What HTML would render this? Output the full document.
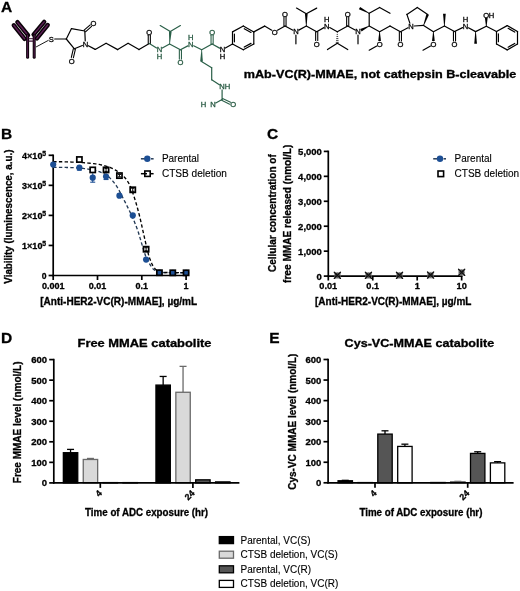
<!DOCTYPE html>
<html><head><meta charset="utf-8"><title>Figure</title>
<style>html,body{margin:0;padding:0;background:#fff;width:520px;height:591px;overflow:hidden}svg{display:block}</style>
</head><body>
<svg width="520" height="591" viewBox="0 0 520 591" font-family="Liberation Sans, Arial, sans-serif">
<g stroke-linecap="round" fill="none">
<line x1="13.8" y1="25.3" x2="24.6" y2="38.8" stroke="#0a0208" stroke-width="4.4" />
<line x1="13.8" y1="25.3" x2="24.6" y2="38.8" stroke="#5e1f57" stroke-width="1.4" />
<line x1="17.4" y1="22.2" x2="28" y2="35.2" stroke="#0a0208" stroke-width="4.4" />
<line x1="17.4" y1="22.2" x2="28" y2="35.2" stroke="#5e1f57" stroke-width="1.4" />
<line x1="44.2" y1="21.9" x2="33.6" y2="34.6" stroke="#0a0208" stroke-width="4.4" />
<line x1="44.2" y1="21.9" x2="33.6" y2="34.6" stroke="#5e1f57" stroke-width="1.4" />
<line x1="47.7" y1="25" x2="36.9" y2="38.4" stroke="#0a0208" stroke-width="4.4" />
<line x1="47.7" y1="25" x2="36.9" y2="38.4" stroke="#5e1f57" stroke-width="1.4" />
<line x1="27.6" y1="35" x2="27.6" y2="57.2" stroke="#0a0208" stroke-width="3" />
<line x1="27.6" y1="35" x2="27.6" y2="57.2" stroke="#5a1d52" stroke-width="0.9" />
<line x1="34.2" y1="35" x2="34.2" y2="57.2" stroke="#0a0208" stroke-width="3" />
<line x1="34.2" y1="35" x2="34.2" y2="57.2" stroke="#5a1d52" stroke-width="0.9" />
<line x1="28.8" y1="38.7" x2="33" y2="38.7" stroke="#3a1235" stroke-width="1" />
<line x1="28.8" y1="41.1" x2="33" y2="41.1" stroke="#3a1235" stroke-width="1.1" />
</g>
<line x1="36.4" y1="46.8" x2="48.3" y2="40.4" stroke="#000" stroke-width="0.9" stroke-linecap="round"/>
<line x1="54.7" y1="39" x2="66.3" y2="39" stroke="#000" stroke-width="1.2" stroke-linecap="round"/>
<line x1="66.3" y1="39" x2="71.5" y2="28.6" stroke="#000" stroke-width="1.2" stroke-linecap="round"/>
<line x1="71.5" y1="28.6" x2="84.8" y2="31" stroke="#000" stroke-width="1.2" stroke-linecap="round"/>
<line x1="84.8" y1="31" x2="85.25" y2="40.9" stroke="#000" stroke-width="1.2" stroke-linecap="round"/>
<line x1="82.36" y1="45.47" x2="74.4" y2="48.8" stroke="#000" stroke-width="1.2" stroke-linecap="round"/>
<line x1="74.4" y1="48.8" x2="66.3" y2="39" stroke="#000" stroke-width="1.2" stroke-linecap="round"/>
<line x1="84.11" y1="30.21" x2="90.22" y2="24.88" stroke="#000" stroke-width="1.08" stroke-linecap="round"/>
<line x1="85.49" y1="31.79" x2="91.6" y2="26.46" stroke="#000" stroke-width="1.08" stroke-linecap="round"/>
<line x1="75.42" y1="49.04" x2="73.37" y2="57.82" stroke="#000" stroke-width="1.08" stroke-linecap="round"/>
<line x1="73.38" y1="48.56" x2="71.33" y2="57.35" stroke="#000" stroke-width="1.08" stroke-linecap="round"/>
<line x1="88.32" y1="45.75" x2="95.2" y2="49.4" stroke="#000" stroke-width="1.2" stroke-linecap="round"/>
<line x1="95.2" y1="49.4" x2="106.1" y2="43.3" stroke="#000" stroke-width="1.2" stroke-linecap="round"/>
<line x1="106.1" y1="43.3" x2="117.7" y2="49.6" stroke="#000" stroke-width="1.2" stroke-linecap="round"/>
<line x1="117.7" y1="49.6" x2="128.1" y2="43.3" stroke="#000" stroke-width="1.2" stroke-linecap="round"/>
<line x1="128.1" y1="43.3" x2="139" y2="49.6" stroke="#000" stroke-width="1.2" stroke-linecap="round"/>
<line x1="139" y1="49.6" x2="149.3" y2="43.6" stroke="#000" stroke-width="1.2" stroke-linecap="round"/>
<line x1="148.25" y1="43.6" x2="148.25" y2="35.2" stroke="#000" stroke-width="1.08" stroke-linecap="round"/>
<line x1="150.35" y1="43.6" x2="150.35" y2="35.2" stroke="#000" stroke-width="1.08" stroke-linecap="round"/>
<line x1="149.3" y1="43.6" x2="156.56" y2="47.91" stroke="#2a5f48" stroke-width="1.2" stroke-linecap="round"/>
<line x1="162.29" y1="48.01" x2="169.6" y2="44" stroke="#2a5f48" stroke-width="1.2" stroke-linecap="round"/>
<polygon points="169.9,44.02 169.3,43.98 168.95,31.33 171.65,31.47" fill="#2a5f48" stroke="none" stroke-width="0"/>
<line x1="170.3" y1="31.4" x2="160.2" y2="25.6" stroke="#2a5f48" stroke-width="1.2" stroke-linecap="round"/>
<line x1="170.3" y1="31.4" x2="180.4" y2="25.6" stroke="#2a5f48" stroke-width="1.2" stroke-linecap="round"/>
<line x1="169.6" y1="44" x2="180.4" y2="49.8" stroke="#2a5f48" stroke-width="1.2" stroke-linecap="round"/>
<line x1="181.45" y1="49.8" x2="181.45" y2="59.1" stroke="#2a5f48" stroke-width="1.08" stroke-linecap="round"/>
<line x1="179.35" y1="49.8" x2="179.35" y2="59.1" stroke="#2a5f48" stroke-width="1.08" stroke-linecap="round"/>
<line x1="180.4" y1="49.8" x2="187.79" y2="45.85" stroke="#2a5f48" stroke-width="1.2" stroke-linecap="round"/>
<line x1="193.65" y1="45.78" x2="201.7" y2="49.8" stroke="#2a5f48" stroke-width="1.2" stroke-linecap="round"/>
<polygon points="201.4,49.79 202,49.81 202.85,61.62 200.15,61.58" fill="#2a5f48" stroke="none" stroke-width="0"/>
<line x1="201.5" y1="61.6" x2="211.7" y2="67.7" stroke="#2a5f48" stroke-width="1.2" stroke-linecap="round"/>
<line x1="211.7" y1="67.7" x2="211.7" y2="79.8" stroke="#2a5f48" stroke-width="1.2" stroke-linecap="round"/>
<line x1="211.7" y1="79.8" x2="219.34" y2="84.79" stroke="#2a5f48" stroke-width="1.2" stroke-linecap="round"/>
<line x1="222.1" y1="89.9" x2="222.1" y2="99.4" stroke="#2a5f48" stroke-width="1.2" stroke-linecap="round"/>
<line x1="222.55" y1="98.45" x2="230.57" y2="102.24" stroke="#2a5f48" stroke-width="1.08" stroke-linecap="round"/>
<line x1="221.65" y1="100.35" x2="229.67" y2="104.14" stroke="#2a5f48" stroke-width="1.08" stroke-linecap="round"/>
<line x1="222.1" y1="99.4" x2="215.77" y2="102.98" stroke="#2a5f48" stroke-width="1.2" stroke-linecap="round"/>
<line x1="201.7" y1="49.8" x2="212.1" y2="44" stroke="#2a5f48" stroke-width="1.2" stroke-linecap="round"/>
<line x1="211.05" y1="44" x2="211.05" y2="35.2" stroke="#2a5f48" stroke-width="1.08" stroke-linecap="round"/>
<line x1="213.15" y1="44" x2="213.15" y2="35.2" stroke="#2a5f48" stroke-width="1.08" stroke-linecap="round"/>
<line x1="212.1" y1="44" x2="219.61" y2="48.11" stroke="#2a5f48" stroke-width="1.2" stroke-linecap="round"/>
<line x1="225.37" y1="48.07" x2="232.5" y2="44" stroke="#000" stroke-width="1.2" stroke-linecap="round"/>
<line x1="232.5" y1="44" x2="232.5" y2="31.9" stroke="#000" stroke-width="1.2" stroke-linecap="round"/>
<line x1="232.5" y1="31.9" x2="243.3" y2="26" stroke="#000" stroke-width="1.2" stroke-linecap="round"/>
<line x1="243.3" y1="26" x2="253.8" y2="31.9" stroke="#000" stroke-width="1.2" stroke-linecap="round"/>
<line x1="253.8" y1="31.9" x2="253.8" y2="44" stroke="#000" stroke-width="1.2" stroke-linecap="round"/>
<line x1="253.8" y1="44" x2="243.3" y2="49.8" stroke="#000" stroke-width="1.2" stroke-linecap="round"/>
<line x1="243.3" y1="49.8" x2="232.5" y2="44" stroke="#000" stroke-width="1.2" stroke-linecap="round"/>
<line x1="234.4" y1="41.82" x2="234.4" y2="34.08" stroke="#000" stroke-width="1.2" stroke-linecap="round"/>
<line x1="244.26" y1="28.72" x2="250.98" y2="32.49" stroke="#000" stroke-width="1.2" stroke-linecap="round"/>
<line x1="250.99" y1="43.38" x2="244.27" y2="47.09" stroke="#000" stroke-width="1.2" stroke-linecap="round"/>
<line x1="253.8" y1="31.9" x2="264.6" y2="26.1" stroke="#000" stroke-width="1.2" stroke-linecap="round"/>
<line x1="264.6" y1="26.1" x2="271.73" y2="30.17" stroke="#000" stroke-width="1.2" stroke-linecap="round"/>
<line x1="277.48" y1="30.19" x2="285" y2="26" stroke="#000" stroke-width="1.2" stroke-linecap="round"/>
<line x1="283.95" y1="26" x2="283.95" y2="17.1" stroke="#000" stroke-width="1.08" stroke-linecap="round"/>
<line x1="286.05" y1="26" x2="286.05" y2="17.1" stroke="#000" stroke-width="1.08" stroke-linecap="round"/>
<line x1="285" y1="26" x2="292.98" y2="30.17" stroke="#000" stroke-width="1.2" stroke-linecap="round"/>
<line x1="295.9" y1="35" x2="295.9" y2="43.8" stroke="#000" stroke-width="1.2" stroke-linecap="round"/>
<line x1="298.79" y1="30.11" x2="306.3" y2="26" stroke="#000" stroke-width="1.2" stroke-linecap="round"/>
<polygon points="306.6,26 306,26 304.95,13.8 307.65,13.8" fill="#000" stroke="none" stroke-width="0"/>
<line x1="306.3" y1="13.8" x2="296.5" y2="8.1" stroke="#000" stroke-width="1.2" stroke-linecap="round"/>
<line x1="306.3" y1="13.8" x2="316.7" y2="8.1" stroke="#000" stroke-width="1.2" stroke-linecap="round"/>
<line x1="306.3" y1="26" x2="316.7" y2="31.7" stroke="#000" stroke-width="1.2" stroke-linecap="round"/>
<line x1="317.75" y1="31.7" x2="317.75" y2="40.5" stroke="#000" stroke-width="1.08" stroke-linecap="round"/>
<line x1="315.65" y1="31.7" x2="315.65" y2="40.5" stroke="#000" stroke-width="1.08" stroke-linecap="round"/>
<line x1="316.7" y1="31.7" x2="323.93" y2="27.62" stroke="#000" stroke-width="1.2" stroke-linecap="round"/>
<line x1="329.7" y1="27.57" x2="337.3" y2="31.7" stroke="#000" stroke-width="1.2" stroke-linecap="round"/>
<line x1="337.71" y1="32.67" x2="336.89" y2="32.67" stroke="#000" stroke-width="0.7" />
<line x1="337.93" y1="34.6" x2="336.68" y2="34.6" stroke="#000" stroke-width="0.7" />
<line x1="338.14" y1="36.53" x2="336.46" y2="36.53" stroke="#000" stroke-width="0.7" />
<line x1="338.36" y1="38.47" x2="336.24" y2="38.47" stroke="#000" stroke-width="0.7" />
<line x1="338.57" y1="40.4" x2="336.03" y2="40.4" stroke="#000" stroke-width="0.7" />
<line x1="338.79" y1="42.33" x2="335.81" y2="42.33" stroke="#000" stroke-width="0.7" />
<line x1="337.3" y1="43.3" x2="327.5" y2="49.6" stroke="#000" stroke-width="1.2" stroke-linecap="round"/>
<line x1="337.3" y1="43.3" x2="347.7" y2="49.6" stroke="#000" stroke-width="1.2" stroke-linecap="round"/>
<line x1="337.3" y1="31.7" x2="347.7" y2="26" stroke="#000" stroke-width="1.2" stroke-linecap="round"/>
<line x1="346.65" y1="26" x2="346.65" y2="17.1" stroke="#000" stroke-width="1.08" stroke-linecap="round"/>
<line x1="348.75" y1="26" x2="348.75" y2="17.1" stroke="#000" stroke-width="1.08" stroke-linecap="round"/>
<line x1="347.7" y1="26" x2="355.11" y2="30.1" stroke="#000" stroke-width="1.2" stroke-linecap="round"/>
<line x1="358" y1="35" x2="358" y2="43.8" stroke="#000" stroke-width="1.2" stroke-linecap="round"/>
<polygon points="369.06,25.73 369.34,26.27 361.55,31.41 360.33,29" fill="#000" stroke="none" stroke-width="0"/>
<line x1="369.2" y1="26" x2="369.2" y2="13.3" stroke="#000" stroke-width="1.2" stroke-linecap="round"/>
<polygon points="369.34,13.04 369.06,13.56 358.86,9.29 360.14,6.91" fill="#000" stroke="none" stroke-width="0"/>
<line x1="369.2" y1="13.3" x2="379.6" y2="7.5" stroke="#000" stroke-width="1.2" stroke-linecap="round"/>
<line x1="379.6" y1="7.5" x2="390" y2="13.3" stroke="#000" stroke-width="1.2" stroke-linecap="round"/>
<line x1="369.2" y1="26" x2="379.6" y2="31.7" stroke="#000" stroke-width="1.2" stroke-linecap="round"/>
<polygon points="379.3,31.7 379.9,31.7 380.95,41.1 378.25,41.1" fill="#000" stroke="none" stroke-width="0"/>
<line x1="376.72" y1="46.01" x2="369.2" y2="50.2" stroke="#000" stroke-width="1.2" stroke-linecap="round"/>
<line x1="379.6" y1="31.7" x2="390" y2="26" stroke="#000" stroke-width="1.2" stroke-linecap="round"/>
<line x1="390" y1="26" x2="400.4" y2="31.7" stroke="#000" stroke-width="1.2" stroke-linecap="round"/>
<line x1="401.45" y1="31.7" x2="401.45" y2="40.9" stroke="#000" stroke-width="1.08" stroke-linecap="round"/>
<line x1="399.35" y1="31.7" x2="399.35" y2="40.9" stroke="#000" stroke-width="1.08" stroke-linecap="round"/>
<line x1="400.4" y1="31.7" x2="407.98" y2="27.73" stroke="#000" stroke-width="1.2" stroke-linecap="round"/>
<line x1="409.84" y1="23.07" x2="406.9" y2="14.4" stroke="#000" stroke-width="1.2" stroke-linecap="round"/>
<line x1="406.9" y1="14.4" x2="417.3" y2="7.5" stroke="#000" stroke-width="1.2" stroke-linecap="round"/>
<line x1="417.3" y1="7.5" x2="427.7" y2="14.4" stroke="#000" stroke-width="1.2" stroke-linecap="round"/>
<polygon points="423.88,25.5 423.32,25.3 426.44,13.93 428.96,14.87" fill="#000" stroke="none" stroke-width="0"/>
<line x1="423.6" y1="25.4" x2="414.19" y2="25.99" stroke="#000" stroke-width="1.2" stroke-linecap="round"/>
<line x1="423.6" y1="25.4" x2="433.4" y2="31.7" stroke="#000" stroke-width="1.2" stroke-linecap="round"/>
<polygon points="433.1,31.7 433.7,31.7 434.75,41.1 432.05,41.1" fill="#000" stroke="none" stroke-width="0"/>
<line x1="430.52" y1="46.01" x2="423" y2="50.2" stroke="#000" stroke-width="1.2" stroke-linecap="round"/>
<line x1="433.4" y1="31.7" x2="444.4" y2="26" stroke="#000" stroke-width="1.2" stroke-linecap="round"/>
<polygon points="444.7,26 444.1,26 443.05,13.8 445.75,13.8" fill="#000" stroke="none" stroke-width="0"/>
<line x1="444.4" y1="26" x2="454.5" y2="31.5" stroke="#000" stroke-width="1.2" stroke-linecap="round"/>
<line x1="455.55" y1="31.5" x2="455.55" y2="40.9" stroke="#000" stroke-width="1.08" stroke-linecap="round"/>
<line x1="453.45" y1="31.5" x2="453.45" y2="40.9" stroke="#000" stroke-width="1.08" stroke-linecap="round"/>
<line x1="454.5" y1="31.5" x2="462.53" y2="27.63" stroke="#000" stroke-width="1.2" stroke-linecap="round"/>
<line x1="468.41" y1="27.76" x2="475.6" y2="31.6" stroke="#000" stroke-width="1.2" stroke-linecap="round"/>
<polygon points="475.3,31.6 475.9,31.6 476.95,43.7 474.25,43.7" fill="#000" stroke="none" stroke-width="0"/>
<line x1="475.6" y1="31.6" x2="486.3" y2="26.2" stroke="#000" stroke-width="1.2" stroke-linecap="round"/>
<polygon points="486.6,26.2 486,26.2 484.95,18.1 487.65,18.1" fill="#000" stroke="none" stroke-width="0"/>
<line x1="486.3" y1="26.2" x2="496.5" y2="31.5" stroke="#000" stroke-width="1.2" stroke-linecap="round"/>
<line x1="496.5" y1="31.5" x2="507.2" y2="25.6" stroke="#000" stroke-width="1.2" stroke-linecap="round"/>
<line x1="507.2" y1="25.6" x2="517.5" y2="31.5" stroke="#000" stroke-width="1.2" stroke-linecap="round"/>
<line x1="517.5" y1="31.5" x2="517.5" y2="44" stroke="#000" stroke-width="1.2" stroke-linecap="round"/>
<line x1="517.5" y1="44" x2="507.2" y2="49.9" stroke="#000" stroke-width="1.2" stroke-linecap="round"/>
<line x1="507.2" y1="49.9" x2="496.5" y2="44" stroke="#000" stroke-width="1.2" stroke-linecap="round"/>
<line x1="496.5" y1="44" x2="496.5" y2="31.5" stroke="#000" stroke-width="1.2" stroke-linecap="round"/>
<line x1="498.4" y1="41.75" x2="498.4" y2="33.75" stroke="#000" stroke-width="1.2" stroke-linecap="round"/>
<line x1="508.11" y1="28.31" x2="514.7" y2="32.09" stroke="#000" stroke-width="1.2" stroke-linecap="round"/>
<line x1="514.7" y1="43.41" x2="508.11" y2="47.19" stroke="#000" stroke-width="1.2" stroke-linecap="round"/>
<text x="51.4" y="41.74" font-size="7.6" fill="#000" text-anchor="middle" stroke="#000" stroke-width="0.3">S</text>
<text x="85.4" y="46.94" font-size="7.6" fill="#000" text-anchor="middle" stroke="#000" stroke-width="0.3">N</text>
<text x="93.4" y="26.24" font-size="7.6" fill="#000" text-anchor="middle" stroke="#000" stroke-width="0.3">O</text>
<text x="71.6" y="63.54" font-size="7.6" fill="#000" text-anchor="middle" stroke="#000" stroke-width="0.3">O</text>
<text x="149.3" y="34.64" font-size="7.6" fill="#000" text-anchor="middle" stroke="#000" stroke-width="0.3">O</text>
<text x="159.4" y="52.34" font-size="7.6" fill="#265840" text-anchor="middle" stroke="#265840" stroke-width="0.3">N</text>
<text x="180.4" y="65.14" font-size="7.6" fill="#265840" text-anchor="middle" stroke="#265840" stroke-width="0.3">O</text>
<text x="190.7" y="47.04" font-size="7.6" fill="#265840" text-anchor="middle" stroke="#265840" stroke-width="0.3">N</text>
<text x="222.1" y="89.34" font-size="7.6" fill="#265840" text-anchor="middle" stroke="#265840" stroke-width="0.3">N</text>
<text x="233.1" y="107.34" font-size="7.6" fill="#265840" text-anchor="middle" stroke="#265840" stroke-width="0.3">O</text>
<text x="212.9" y="107.34" font-size="7.6" fill="#265840" text-anchor="middle" stroke="#265840" stroke-width="0.3">N</text>
<text x="212.1" y="34.64" font-size="7.6" fill="#265840" text-anchor="middle" stroke="#265840" stroke-width="0.3">O</text>
<text x="222.5" y="52.44" font-size="7.6" fill="#000" text-anchor="middle" stroke="#000" stroke-width="0.3">N</text>
<text x="274.6" y="34.54" font-size="7.6" fill="#000" text-anchor="middle" stroke="#000" stroke-width="0.3">O</text>
<text x="285" y="16.54" font-size="7.6" fill="#000" text-anchor="middle" stroke="#000" stroke-width="0.3">O</text>
<text x="295.9" y="34.44" font-size="7.6" fill="#000" text-anchor="middle" stroke="#000" stroke-width="0.3">N</text>
<text x="316.7" y="46.54" font-size="7.6" fill="#000" text-anchor="middle" stroke="#000" stroke-width="0.3">O</text>
<text x="326.8" y="28.74" font-size="7.6" fill="#000" text-anchor="middle" stroke="#000" stroke-width="0.3">N</text>
<text x="347.7" y="16.54" font-size="7.6" fill="#000" text-anchor="middle" stroke="#000" stroke-width="0.3">O</text>
<text x="358" y="34.44" font-size="7.6" fill="#000" text-anchor="middle" stroke="#000" stroke-width="0.3">N</text>
<text x="379.6" y="47.14" font-size="7.6" fill="#000" text-anchor="middle" stroke="#000" stroke-width="0.3">O</text>
<text x="400.4" y="46.94" font-size="7.6" fill="#000" text-anchor="middle" stroke="#000" stroke-width="0.3">O</text>
<text x="410.9" y="28.94" font-size="7.6" fill="#000" text-anchor="middle" stroke="#000" stroke-width="0.3">N</text>
<text x="433.4" y="47.14" font-size="7.6" fill="#000" text-anchor="middle" stroke="#000" stroke-width="0.3">O</text>
<text x="454.5" y="46.94" font-size="7.6" fill="#000" text-anchor="middle" stroke="#000" stroke-width="0.3">O</text>
<text x="465.5" y="28.94" font-size="7.6" fill="#000" text-anchor="middle" stroke="#000" stroke-width="0.3">N</text>
<text x="486.3" y="17.54" font-size="7.6" fill="#000" text-anchor="middle" stroke="#000" stroke-width="0.3">O</text>
<text x="159.6" y="59.44" font-size="7.6" fill="#265840" text-anchor="middle" stroke="#265840" stroke-width="0.3">H</text>
<text x="190.7" y="40.24" font-size="7.6" fill="#265840" text-anchor="middle" stroke="#265840" stroke-width="0.3">H</text>
<text x="222.5" y="59.44" font-size="7.6" fill="#000" text-anchor="middle" stroke="#000" stroke-width="0.3">H</text>
<text x="326.8" y="22.04" font-size="7.6" fill="#000" text-anchor="middle" stroke="#000" stroke-width="0.3">H</text>
<text x="465.5" y="22.24" font-size="7.6" fill="#000" text-anchor="middle" stroke="#000" stroke-width="0.3">H</text>
<text x="227.6" y="89.34" font-size="7.6" fill="#265840" text-anchor="middle" stroke="#265840" stroke-width="0.3">H</text>
<text x="203.6" y="107.34" font-size="7.6" fill="#265840" text-anchor="middle" stroke="#265840" stroke-width="0.3">H</text>
<text x="491.6" y="17.54" font-size="7.6" fill="#000" text-anchor="middle" stroke="#000" stroke-width="0.3">H</text>
<text x="243.8" y="77.8" font-size="10" font-weight="bold" fill="#000" text-anchor="start" textLength="272.4" lengthAdjust="spacingAndGlyphs"  stroke="#000" stroke-width="0.3">mAb-VC(R)-MMAE, not cathepsin B-cleavable</text>
<text x="0.9" y="11.8" font-size="15.5" font-weight="bold" fill="#000" text-anchor="start"  stroke="#000" stroke-width="0.3">A</text>
<text x="0.9" y="139.3" font-size="15.5" font-weight="bold" fill="#000" text-anchor="start"  stroke="#000" stroke-width="0.3">B</text>
<text x="267.1" y="139.2" font-size="15.5" font-weight="bold" fill="#000" text-anchor="start"  stroke="#000" stroke-width="0.3">C</text>
<text x="0.9" y="342.5" font-size="15.5" font-weight="bold" fill="#000" text-anchor="start"  stroke="#000" stroke-width="0.3">D</text>
<text x="269.2" y="342.5" font-size="15.5" font-weight="bold" fill="#000" text-anchor="start"  stroke="#000" stroke-width="0.3">E</text>
<line x1="53.2" y1="154.5" x2="53.2" y2="276.3" stroke="#000" stroke-width="1.7" />
<line x1="52.4" y1="275.5" x2="186.9" y2="275.5" stroke="#000" stroke-width="1.7" />
<line x1="48.6" y1="275.5" x2="53.2" y2="275.5" stroke="#000" stroke-width="1.7" />
<line x1="48.6" y1="245.45" x2="53.2" y2="245.45" stroke="#000" stroke-width="1.7" />
<line x1="48.6" y1="215.4" x2="53.2" y2="215.4" stroke="#000" stroke-width="1.7" />
<line x1="48.6" y1="185.35" x2="53.2" y2="185.35" stroke="#000" stroke-width="1.7" />
<line x1="48.6" y1="155.3" x2="53.2" y2="155.3" stroke="#000" stroke-width="1.7" />
<line x1="53.2" y1="275.5" x2="53.2" y2="280" stroke="#000" stroke-width="1.7" />
<line x1="97.5" y1="275.5" x2="97.5" y2="280" stroke="#000" stroke-width="1.7" />
<line x1="141.8" y1="275.5" x2="141.8" y2="280" stroke="#000" stroke-width="1.7" />
<line x1="186.1" y1="275.5" x2="186.1" y2="280" stroke="#000" stroke-width="1.7" />
<text x="42.4" y="249.05" font-size="9" font-weight="bold" fill="#000" text-anchor="end"  stroke="#000" stroke-width="0.3">1×10</text>
<text x="42.2" y="246.35" font-size="6.8" font-weight="bold" fill="#000" text-anchor="start"  stroke="#000" stroke-width="0.3">5</text>
<text x="42.4" y="219" font-size="9" font-weight="bold" fill="#000" text-anchor="end"  stroke="#000" stroke-width="0.3">2×10</text>
<text x="42.2" y="216.3" font-size="6.8" font-weight="bold" fill="#000" text-anchor="start"  stroke="#000" stroke-width="0.3">5</text>
<text x="42.4" y="188.95" font-size="9" font-weight="bold" fill="#000" text-anchor="end"  stroke="#000" stroke-width="0.3">3×10</text>
<text x="42.2" y="186.25" font-size="6.8" font-weight="bold" fill="#000" text-anchor="start"  stroke="#000" stroke-width="0.3">5</text>
<text x="42.4" y="158.9" font-size="9" font-weight="bold" fill="#000" text-anchor="end"  stroke="#000" stroke-width="0.3">4×10</text>
<text x="42.2" y="156.2" font-size="6.8" font-weight="bold" fill="#000" text-anchor="start"  stroke="#000" stroke-width="0.3">5</text>
<text x="46.5" y="278.8" font-size="8.6" font-weight="bold" fill="#000" text-anchor="end"  stroke="#000" stroke-width="0.3">0</text>
<text x="53.2" y="288.9" font-size="9" font-weight="bold" fill="#000" text-anchor="middle"  stroke="#000" stroke-width="0.3">0.001</text>
<text x="97.5" y="288.9" font-size="9" font-weight="bold" fill="#000" text-anchor="middle"  stroke="#000" stroke-width="0.3">0.01</text>
<text x="141.8" y="288.9" font-size="9" font-weight="bold" fill="#000" text-anchor="middle"  stroke="#000" stroke-width="0.3">0.1</text>
<text x="186.1" y="288.9" font-size="9" font-weight="bold" fill="#000" text-anchor="middle"  stroke="#000" stroke-width="0.3">1</text>
<text x="40.2" y="304.9" font-size="10" font-weight="bold" fill="#000" text-anchor="start" textLength="157" lengthAdjust="spacingAndGlyphs"  stroke="#000" stroke-width="0.3">[Anti-HER2-VC(R)-MMAE], µg/mL</text>
<text x="12.2" y="283.7" font-size="10" font-weight="bold" fill="#000" text-anchor="start" textLength="134.2" lengthAdjust="spacingAndGlyphs" transform="rotate(-90 12.2 283.7)"  stroke="#000" stroke-width="0.3">Viability (luminescence, a.u.)</text>
<path d="M53.2 167.3 L54.04 167.3 L54.87 167.3 L55.71 167.31 L56.55 167.31 L57.38 167.32 L58.22 167.32 L59.05 167.33 L59.89 167.34 L60.73 167.35 L61.56 167.36 L62.4 167.38 L63.23 167.39 L64.07 167.41 L64.91 167.42 L65.74 167.44 L66.58 167.46 L67.42 167.47 L68.25 167.49 L69.09 167.51 L69.93 167.53 L70.76 167.55 L71.6 167.58 L72.43 167.6 L73.27 167.62 L74.11 167.66 L74.94 167.7 L75.78 167.74 L76.62 167.8 L77.45 167.85 L78.29 167.92 L79.12 167.99 L79.96 168.07 L80.8 168.16 L81.63 168.25 L82.47 168.34 L83.31 168.44 L84.14 168.55 L84.98 168.66 L85.81 168.78 L86.65 168.91 L87.49 169.03 L88.32 169.17 L89.16 169.31 L90 169.45 L90.83 169.6 L91.67 169.75 L92.5 169.91 L93.34 170.07 L94.18 170.23 L95.01 170.4 L95.85 170.59 L96.69 170.81 L97.52 171.05 L98.36 171.32 L99.19 171.62 L100.03 171.95 L100.87 172.3 L101.7 172.68 L102.54 173.08 L103.38 173.51 L104.21 173.95 L105.05 174.42 L105.88 174.91 L106.72 175.42 L107.56 175.97 L108.39 176.6 L109.23 177.32 L110.07 178.11 L110.9 178.96 L111.74 179.88 L112.57 180.86 L113.41 181.88 L114.25 182.94 L115.08 184.04 L115.92 185.16 L116.76 186.38 L117.59 187.73 L118.43 189.18 L119.26 190.72 L120.1 192.31 L120.94 193.95 L121.77 195.62 L122.61 197.29 L123.45 198.93 L124.28 200.55 L125.12 202.16 L125.95 203.79 L126.79 205.44 L127.63 207.11 L128.46 208.81 L129.3 210.53 L130.13 212.26 L130.97 214.01 L131.81 215.82 L132.64 217.68 L133.48 219.62 L134.32 221.6 L135.15 223.65 L135.99 225.77 L136.83 227.98 L137.66 230.3 L138.5 232.8 L139.33 235.52 L140.17 238.37 L141.01 241.26 L141.84 244.09 L142.68 246.79 L143.52 249.54 L144.35 252.28 L145.19 254.84 L146.02 257.08 L146.86 258.95 L147.7 260.6 L148.53 262.1 L149.37 263.49 L150.21 264.83 L151.04 266.16 L151.88 267.4 L152.71 268.42 L153.55 269.18 L154.39 269.87 L155.22 270.48 L156.06 270.99 L156.9 271.38 L157.73 271.63 L158.57 271.82 L159.4 271.98 L160.24 272.13 L161.08 272.27 L161.91 272.38 L162.75 272.47 L163.59 272.54 L164.42 272.58 L165.26 272.61 L166.09 272.62 L166.93 272.64 L167.77 272.65 L168.6 272.66 L169.44 272.68 L170.28 272.69 L171.11 272.7 L171.95 272.71 L172.78 272.72 L173.62 272.73 L174.46 272.74 L175.29 272.75 L176.13 272.76 L176.97 272.76 L177.8 272.77 L178.64 272.77 L179.47 272.78 L180.31 272.78 L181.15 272.79 L181.98 272.79 L182.82 272.79 L183.66 272.8 L184.49 272.8 L185.33 272.8 L186.16 272.8 L187 272.8" stroke="#243a55" stroke-width="1.35" fill="none" stroke-dasharray="3.4 2.3"/>
<path d="M53.2 161.7 L54.04 161.7 L54.87 161.7 L55.71 161.71 L56.55 161.72 L57.38 161.73 L58.22 161.74 L59.05 161.75 L59.89 161.76 L60.73 161.78 L61.56 161.79 L62.4 161.81 L63.23 161.83 L64.07 161.85 L64.91 161.87 L65.74 161.9 L66.58 161.92 L67.42 161.94 L68.25 161.97 L69.09 161.99 L69.93 162.02 L70.76 162.04 L71.6 162.07 L72.43 162.1 L73.27 162.13 L74.11 162.16 L74.94 162.19 L75.78 162.23 L76.62 162.27 L77.45 162.31 L78.29 162.35 L79.12 162.4 L79.96 162.45 L80.8 162.5 L81.63 162.56 L82.47 162.61 L83.31 162.68 L84.14 162.74 L84.98 162.8 L85.81 162.87 L86.65 162.94 L87.49 163.02 L88.32 163.1 L89.16 163.17 L90 163.26 L90.83 163.34 L91.67 163.43 L92.5 163.52 L93.34 163.61 L94.18 163.7 L95.01 163.8 L95.85 163.91 L96.69 164.03 L97.52 164.16 L98.36 164.3 L99.19 164.46 L100.03 164.62 L100.87 164.8 L101.7 164.99 L102.54 165.19 L103.38 165.4 L104.21 165.61 L105.05 165.84 L105.88 166.07 L106.72 166.32 L107.56 166.57 L108.39 166.85 L109.23 167.16 L110.07 167.49 L110.9 167.85 L111.74 168.23 L112.57 168.63 L113.41 169.05 L114.25 169.49 L115.08 169.95 L115.92 170.43 L116.76 170.93 L117.59 171.46 L118.43 172.03 L119.26 172.63 L120.1 173.27 L120.94 173.94 L121.77 174.66 L122.61 175.42 L123.45 176.23 L124.28 177.08 L125.12 177.99 L125.95 179.01 L126.79 180.14 L127.63 181.38 L128.46 182.74 L129.3 184.22 L130.13 185.9 L130.97 187.87 L131.81 190.08 L132.64 192.46 L133.48 194.94 L134.32 197.46 L135.15 200.1 L135.99 202.87 L136.83 205.78 L137.66 208.8 L138.5 211.92 L139.33 215.14 L140.17 218.54 L141.01 222.17 L141.84 225.93 L142.68 229.75 L143.52 233.51 L144.35 237.17 L145.19 240.82 L146.02 244.43 L146.86 247.93 L147.7 251.37 L148.53 254.71 L149.37 257.51 L150.21 259.87 L151.04 261.95 L151.88 263.76 L152.71 265.35 L153.55 266.76 L154.39 267.94 L155.22 268.91 L156.06 269.81 L156.9 270.57 L157.73 271.09 L158.57 271.38 L159.4 271.63 L160.24 271.85 L161.08 272.04 L161.91 272.2 L162.75 272.32 L163.59 272.42 L164.42 272.48 L165.26 272.51 L166.09 272.52 L166.93 272.54 L167.77 272.55 L168.6 272.57 L169.44 272.58 L170.28 272.59 L171.11 272.6 L171.95 272.61 L172.78 272.62 L173.62 272.63 L174.46 272.64 L175.29 272.65 L176.13 272.66 L176.97 272.66 L177.8 272.67 L178.64 272.68 L179.47 272.68 L180.31 272.68 L181.15 272.69 L181.98 272.69 L182.82 272.69 L183.66 272.7 L184.49 272.7 L185.33 272.7 L186.16 272.7 L187 272.7" stroke="#000" stroke-width="1.35" fill="none" stroke-dasharray="3.4 2.3"/>
<circle cx="53.2" cy="164.62" r="3.1" fill="#1d4f94"/>
<line x1="79.38" y1="170.11" x2="79.38" y2="165.31" stroke="#1d4f94" stroke-width="1.1" />
<line x1="76.88" y1="170.11" x2="81.88" y2="170.11" stroke="#1d4f94" stroke-width="1.1" />
<circle cx="79.38" cy="167.71" r="3.1" fill="#1d4f94"/>
<line x1="92.72" y1="182.19" x2="92.72" y2="173.18" stroke="#1d4f94" stroke-width="1.1" />
<line x1="90.22" y1="182.19" x2="95.22" y2="182.19" stroke="#1d4f94" stroke-width="1.1" />
<circle cx="92.72" cy="177.69" r="3.1" fill="#1d4f94"/>
<line x1="106.06" y1="179.52" x2="106.06" y2="173.51" stroke="#1d4f94" stroke-width="1.1" />
<line x1="103.56" y1="179.52" x2="108.56" y2="179.52" stroke="#1d4f94" stroke-width="1.1" />
<circle cx="106.06" cy="176.52" r="3.1" fill="#1d4f94"/>
<circle cx="119.42" cy="195.69" r="3.1" fill="#1d4f94"/>
<circle cx="132.76" cy="215.4" r="3.1" fill="#1d4f94"/>
<circle cx="146.09" cy="259.6" r="3.1" fill="#1d4f94"/>
<circle cx="159.43" cy="272.71" r="3.1" fill="#1d4f94"/>
<circle cx="172.76" cy="272.8" r="3.1" fill="#1d4f94"/>
<circle cx="186.1" cy="272.8" r="3.1" fill="#1d4f94"/>
<rect x="76.78" y="156.91" width="5.2" height="5.2" fill="#fff" stroke="#000" stroke-width="1.7"/>
<rect x="90.12" y="167.3" width="5.2" height="5.2" fill="#fff" stroke="#000" stroke-width="1.7"/>
<rect x="103.46" y="167.3" width="5.2" height="5.2" fill="#fff" stroke="#000" stroke-width="1.7"/>
<line x1="106.06" y1="171.41" x2="106.06" y2="168.4" stroke="#000" stroke-width="1" />
<line x1="104.46" y1="168.4" x2="107.66" y2="168.4" stroke="#000" stroke-width="1" />
<line x1="104.46" y1="171.41" x2="107.66" y2="171.41" stroke="#000" stroke-width="1" />
<rect x="116.82" y="173.01" width="5.2" height="5.2" fill="#fff" stroke="#000" stroke-width="1.7"/>
<line x1="119.42" y1="176.82" x2="119.42" y2="174.41" stroke="#000" stroke-width="1" />
<line x1="117.82" y1="174.41" x2="121.02" y2="174.41" stroke="#000" stroke-width="1" />
<line x1="117.82" y1="176.82" x2="121.02" y2="176.82" stroke="#000" stroke-width="1" />
<rect x="130.16" y="187.2" width="5.2" height="5.2" fill="#fff" stroke="#000" stroke-width="1.7"/>
<line x1="132.76" y1="191.3" x2="132.76" y2="188.29" stroke="#000" stroke-width="1" />
<line x1="131.16" y1="188.29" x2="134.36" y2="188.29" stroke="#000" stroke-width="1" />
<line x1="131.16" y1="191.3" x2="134.36" y2="191.3" stroke="#000" stroke-width="1" />
<rect x="143.49" y="246.61" width="5.2" height="5.2" fill="#fff" stroke="#000" stroke-width="1.7"/>
<line x1="146.09" y1="250.71" x2="146.09" y2="247.7" stroke="#000" stroke-width="1" />
<line x1="144.49" y1="247.7" x2="147.69" y2="247.7" stroke="#000" stroke-width="1" />
<line x1="144.49" y1="250.71" x2="147.69" y2="250.71" stroke="#000" stroke-width="1" />
<rect x="156.83" y="270.11" width="5.2" height="5.2" fill="none" stroke="#000" stroke-width="1.7"/>
<rect x="170.16" y="270.2" width="5.2" height="5.2" fill="none" stroke="#000" stroke-width="1.7"/>
<rect x="183.5" y="270.2" width="5.2" height="5.2" fill="none" stroke="#000" stroke-width="1.7"/>
<line x1="140.9" y1="158.8" x2="147" y2="158.8" stroke="#243a55" stroke-width="1.5" />
<line x1="151" y1="158.8" x2="153.6" y2="158.8" stroke="#243a55" stroke-width="1.5" />
<circle cx="147.3" cy="158.8" r="3.2" fill="#1d4f94"/>
<line x1="140.9" y1="173.7" x2="147" y2="173.7" stroke="#000" stroke-width="1.5" />
<line x1="151" y1="173.7" x2="153.6" y2="173.7" stroke="#000" stroke-width="1.5" />
<rect x="144.8" y="171" width="5.4" height="5.4" fill="none" stroke="#000" stroke-width="1.6"/>
<text x="161.9" y="161.8" font-size="10" fill="#000" text-anchor="start" textLength="37.1" lengthAdjust="spacingAndGlyphs"  stroke="#000" stroke-width="0.12">Parental</text>
<text x="161.9" y="176.7" font-size="10" fill="#000" text-anchor="start" textLength="65" lengthAdjust="spacingAndGlyphs"  stroke="#000" stroke-width="0.12">CTSB deletion</text>
<line x1="328.3" y1="150.6" x2="328.3" y2="276.9" stroke="#000" stroke-width="1.7" />
<line x1="327.5" y1="276.1" x2="462.45" y2="276.1" stroke="#000" stroke-width="1.7" />
<line x1="323.8" y1="276.1" x2="328.3" y2="276.1" stroke="#000" stroke-width="1.7" />
<text x="321.9" y="279.7" font-size="9.5" font-weight="bold" fill="#000" text-anchor="end"  stroke="#000" stroke-width="0.3">0</text>
<line x1="323.8" y1="251.16" x2="328.3" y2="251.16" stroke="#000" stroke-width="1.7" />
<text x="321.9" y="254.76" font-size="9.5" font-weight="bold" fill="#000" text-anchor="end"  stroke="#000" stroke-width="0.3">1,000</text>
<line x1="323.8" y1="226.22" x2="328.3" y2="226.22" stroke="#000" stroke-width="1.7" />
<text x="321.9" y="229.82" font-size="9.5" font-weight="bold" fill="#000" text-anchor="end"  stroke="#000" stroke-width="0.3">2,000</text>
<line x1="323.8" y1="201.28" x2="328.3" y2="201.28" stroke="#000" stroke-width="1.7" />
<text x="321.9" y="204.88" font-size="9.5" font-weight="bold" fill="#000" text-anchor="end"  stroke="#000" stroke-width="0.3">3,000</text>
<line x1="323.8" y1="176.34" x2="328.3" y2="176.34" stroke="#000" stroke-width="1.7" />
<text x="321.9" y="179.94" font-size="9.5" font-weight="bold" fill="#000" text-anchor="end"  stroke="#000" stroke-width="0.3">4,000</text>
<line x1="323.8" y1="151.4" x2="328.3" y2="151.4" stroke="#000" stroke-width="1.7" />
<text x="321.9" y="155" font-size="9.5" font-weight="bold" fill="#000" text-anchor="end"  stroke="#000" stroke-width="0.3">5,000</text>
<line x1="328.3" y1="276.1" x2="328.3" y2="280.5" stroke="#000" stroke-width="1.7" />
<text x="328.3" y="289.2" font-size="9.2" font-weight="bold" fill="#000" text-anchor="middle"  stroke="#000" stroke-width="0.3">0.01</text>
<line x1="372.75" y1="276.1" x2="372.75" y2="280.5" stroke="#000" stroke-width="1.7" />
<text x="372.75" y="289.2" font-size="9.2" font-weight="bold" fill="#000" text-anchor="middle"  stroke="#000" stroke-width="0.3">0.1</text>
<line x1="417.2" y1="276.1" x2="417.2" y2="280.5" stroke="#000" stroke-width="1.7" />
<text x="417.2" y="289.2" font-size="9.2" font-weight="bold" fill="#000" text-anchor="middle"  stroke="#000" stroke-width="0.3">1</text>
<line x1="461.65" y1="276.1" x2="461.65" y2="280.5" stroke="#000" stroke-width="1.7" />
<text x="461.65" y="289.2" font-size="9.2" font-weight="bold" fill="#000" text-anchor="middle"  stroke="#000" stroke-width="0.3">10</text>
<text x="315" y="305.1" font-size="10" font-weight="bold" fill="#000" text-anchor="start" textLength="156.4" lengthAdjust="spacingAndGlyphs"  stroke="#000" stroke-width="0.3">[Anti-HER2-VC(R)-MMAE], µg/mL</text>
<text x="276.2" y="272" font-size="10" font-weight="bold" fill="#000" text-anchor="start" textLength="117.8" lengthAdjust="spacingAndGlyphs" transform="rotate(-90 276.2 272)"  stroke="#000" stroke-width="0.3">Cellular concentration of</text>
<text x="290.6" y="282.9" font-size="10" font-weight="bold" fill="#000" text-anchor="start" textLength="138.3" lengthAdjust="spacingAndGlyphs" transform="rotate(-90 290.6 282.9)"  stroke="#000" stroke-width="0.3">free MMAE released (nmol/L)</text>
<rect x="334.47" y="272.45" width="5.8" height="5.8" fill="none" stroke="#777" stroke-width="0.6"/>
<circle cx="337.37" cy="275.35" r="2.1" fill="#666" stroke="#222" stroke-width="0.8"/>
<line x1="334.27" y1="272.25" x2="340.47" y2="278.45" stroke="#111" stroke-width="1.25" stroke-linecap="round"/>
<line x1="334.27" y1="278.45" x2="340.47" y2="272.25" stroke="#111" stroke-width="1.25" stroke-linecap="round"/>
<rect x="365.54" y="272.45" width="5.8" height="5.8" fill="none" stroke="#777" stroke-width="0.6"/>
<circle cx="368.44" cy="275.35" r="2.1" fill="#666" stroke="#222" stroke-width="0.8"/>
<line x1="365.34" y1="272.25" x2="371.54" y2="278.45" stroke="#111" stroke-width="1.25" stroke-linecap="round"/>
<line x1="365.34" y1="278.45" x2="371.54" y2="272.25" stroke="#111" stroke-width="1.25" stroke-linecap="round"/>
<rect x="396.61" y="272.45" width="5.8" height="5.8" fill="none" stroke="#777" stroke-width="0.6"/>
<circle cx="399.51" cy="275.35" r="2.1" fill="#666" stroke="#222" stroke-width="0.8"/>
<line x1="396.41" y1="272.25" x2="402.61" y2="278.45" stroke="#111" stroke-width="1.25" stroke-linecap="round"/>
<line x1="396.41" y1="278.45" x2="402.61" y2="272.25" stroke="#111" stroke-width="1.25" stroke-linecap="round"/>
<rect x="427.68" y="272.2" width="5.8" height="5.8" fill="none" stroke="#777" stroke-width="0.6"/>
<circle cx="430.58" cy="275.1" r="2.1" fill="#666" stroke="#222" stroke-width="0.8"/>
<line x1="427.48" y1="272" x2="433.68" y2="278.2" stroke="#111" stroke-width="1.25" stroke-linecap="round"/>
<line x1="427.48" y1="278.2" x2="433.68" y2="272" stroke="#111" stroke-width="1.25" stroke-linecap="round"/>
<rect x="458.75" y="269.46" width="5.8" height="5.8" fill="none" stroke="#777" stroke-width="0.6"/>
<circle cx="461.65" cy="272.36" r="2.1" fill="#666" stroke="#222" stroke-width="0.8"/>
<line x1="458.55" y1="269.26" x2="464.75" y2="275.46" stroke="#111" stroke-width="1.25" stroke-linecap="round"/>
<line x1="458.55" y1="275.46" x2="464.75" y2="269.26" stroke="#111" stroke-width="1.25" stroke-linecap="round"/>
<line x1="433.2" y1="158.8" x2="439" y2="158.8" stroke="#243a55" stroke-width="1.5" />
<line x1="443.5" y1="158.8" x2="446" y2="158.8" stroke="#243a55" stroke-width="1.5" />
<circle cx="440.0" cy="158.8" r="3.2" fill="#1d4f94"/>
<rect x="438" y="171" width="5.6" height="5.6" fill="#fff" stroke="#000" stroke-width="1.6"/>
<text x="454.6" y="161.9" font-size="10" fill="#000" text-anchor="start" textLength="37.1" lengthAdjust="spacingAndGlyphs"  stroke="#000" stroke-width="0.12">Parental</text>
<text x="454.6" y="176.6" font-size="10" fill="#000" text-anchor="start" textLength="64.5" lengthAdjust="spacingAndGlyphs"  stroke="#000" stroke-width="0.12">CTSB deletion</text>
<line x1="70.55" y1="452.69" x2="70.55" y2="449.4" stroke="#000" stroke-width="1.3" />
<line x1="67.05" y1="449.4" x2="74.05" y2="449.4" stroke="#000" stroke-width="1.3" />
<rect x="63.35" y="452.69" width="14.4" height="30.21" fill="#000" stroke="#000" stroke-width="1.3"/>
<line x1="90.45" y1="459.47" x2="90.45" y2="458.45" stroke="#6a6a6a" stroke-width="1.3" />
<line x1="86.95" y1="458.45" x2="93.95" y2="458.45" stroke="#6a6a6a" stroke-width="1.3" />
<rect x="83.25" y="459.47" width="14.4" height="23.43" fill="#d9d9d9" stroke="#6a6a6a" stroke-width="1.3"/>
<rect x="103.1" y="482.59" width="14.4" height="0.31" fill="#555" stroke="#000" stroke-width="1.3"/>
<rect x="123" y="482.59" width="14.4" height="0.31" fill="#fff" stroke="#000" stroke-width="1.3"/>
<line x1="163.15" y1="385.08" x2="163.15" y2="376.45" stroke="#000" stroke-width="1.3" />
<line x1="159.65" y1="376.45" x2="166.65" y2="376.45" stroke="#000" stroke-width="1.3" />
<rect x="155.95" y="385.08" width="14.4" height="97.82" fill="#000" stroke="#000" stroke-width="1.3"/>
<line x1="183.05" y1="392.27" x2="183.05" y2="366.38" stroke="#6a6a6a" stroke-width="1.3" />
<line x1="179.55" y1="366.38" x2="186.55" y2="366.38" stroke="#6a6a6a" stroke-width="1.3" />
<rect x="175.85" y="392.27" width="14.4" height="90.63" fill="#d9d9d9" stroke="#6a6a6a" stroke-width="1.3"/>
<rect x="195.7" y="479.82" width="14.4" height="3.08" fill="#555" stroke="#000" stroke-width="1.3"/>
<rect x="215.6" y="481.87" width="14.4" height="1.03" fill="#fff" stroke="#000" stroke-width="1.3"/>
<line x1="53.8" y1="358.8" x2="53.8" y2="483.7" stroke="#000" stroke-width="1.7" />
<line x1="53" y1="482.9" x2="239.4" y2="482.9" stroke="#000" stroke-width="1.7" />
<line x1="49.2" y1="482.9" x2="53.8" y2="482.9" stroke="#000" stroke-width="1.7" />
<text x="47" y="486.4" font-size="9.5" font-weight="bold" fill="#000" text-anchor="end"  stroke="#000" stroke-width="0.3">0</text>
<line x1="49.2" y1="462.35" x2="53.8" y2="462.35" stroke="#000" stroke-width="1.7" />
<text x="47" y="465.85" font-size="9.5" font-weight="bold" fill="#000" text-anchor="end"  stroke="#000" stroke-width="0.3">100</text>
<line x1="49.2" y1="441.8" x2="53.8" y2="441.8" stroke="#000" stroke-width="1.7" />
<text x="47" y="445.3" font-size="9.5" font-weight="bold" fill="#000" text-anchor="end"  stroke="#000" stroke-width="0.3">200</text>
<line x1="49.2" y1="421.25" x2="53.8" y2="421.25" stroke="#000" stroke-width="1.7" />
<text x="47" y="424.75" font-size="9.5" font-weight="bold" fill="#000" text-anchor="end"  stroke="#000" stroke-width="0.3">300</text>
<line x1="49.2" y1="400.7" x2="53.8" y2="400.7" stroke="#000" stroke-width="1.7" />
<text x="47" y="404.2" font-size="9.5" font-weight="bold" fill="#000" text-anchor="end"  stroke="#000" stroke-width="0.3">400</text>
<line x1="49.2" y1="380.15" x2="53.8" y2="380.15" stroke="#000" stroke-width="1.7" />
<text x="47" y="383.65" font-size="9.5" font-weight="bold" fill="#000" text-anchor="end"  stroke="#000" stroke-width="0.3">500</text>
<line x1="49.2" y1="359.6" x2="53.8" y2="359.6" stroke="#000" stroke-width="1.7" />
<text x="47" y="363.1" font-size="9.5" font-weight="bold" fill="#000" text-anchor="end"  stroke="#000" stroke-width="0.3">600</text>
<line x1="100.3" y1="482.9" x2="100.3" y2="487.9" stroke="#000" stroke-width="1.7" />
<text x="102.6" y="493.9" font-size="8.8" font-weight="bold" fill="#000" text-anchor="end" transform="rotate(-45 102.6 493.9)"  stroke="#000" stroke-width="0.3">4</text>
<line x1="192.9" y1="482.9" x2="192.9" y2="487.9" stroke="#000" stroke-width="1.7" />
<text x="195.2" y="493.9" font-size="8.8" font-weight="bold" fill="#000" text-anchor="end" transform="rotate(-45 195.2 493.9)"  stroke="#000" stroke-width="0.3">24</text>
<text x="77.5" y="347.4" font-size="10" font-weight="bold" fill="#000" text-anchor="start" textLength="134" lengthAdjust="spacingAndGlyphs"  stroke="#000" stroke-width="0.3">Free MMAE catabolite</text>
<text x="85.1" y="515.9" font-size="10" font-weight="bold" fill="#000" text-anchor="start" textLength="123" lengthAdjust="spacingAndGlyphs"  stroke="#000" stroke-width="0.3">Time of ADC exposure (hr)</text>
<text x="20.6" y="483.2" font-size="10" font-weight="bold" fill="#000" text-anchor="start" textLength="121.7" lengthAdjust="spacingAndGlyphs" transform="rotate(-90 20.6 483.2)"  stroke="#000" stroke-width="0.3">Free MMAE level (nmol/L)</text>
<line x1="345.25" y1="480.75" x2="345.25" y2="480.33" stroke="#000" stroke-width="1.3" />
<line x1="341.75" y1="480.33" x2="348.75" y2="480.33" stroke="#000" stroke-width="1.3" />
<rect x="338.05" y="480.75" width="14.4" height="2.05" fill="#000" stroke="#000" stroke-width="1.3"/>
<rect x="357.95" y="482.5" width="14.4" height="0.3" fill="#d9d9d9" stroke="#6a6a6a" stroke-width="1.3"/>
<line x1="385" y1="434.1" x2="385" y2="430.81" stroke="#000" stroke-width="1.3" />
<line x1="381.5" y1="430.81" x2="388.5" y2="430.81" stroke="#000" stroke-width="1.3" />
<rect x="377.8" y="434.1" width="14.4" height="48.7" fill="#555" stroke="#000" stroke-width="1.3"/>
<line x1="404.9" y1="446.43" x2="404.9" y2="444.17" stroke="#000" stroke-width="1.3" />
<line x1="401.4" y1="444.17" x2="408.4" y2="444.17" stroke="#000" stroke-width="1.3" />
<rect x="397.7" y="446.43" width="14.4" height="36.37" fill="#fff" stroke="#000" stroke-width="1.3"/>
<rect x="430.75" y="482.5" width="14.4" height="0.3" fill="#000" stroke="#000" stroke-width="1.3"/>
<line x1="457.85" y1="481.77" x2="457.85" y2="481.36" stroke="#6a6a6a" stroke-width="1.3" />
<line x1="454.35" y1="481.36" x2="461.35" y2="481.36" stroke="#6a6a6a" stroke-width="1.3" />
<rect x="450.65" y="481.77" width="14.4" height="1.03" fill="#d9d9d9" stroke="#6a6a6a" stroke-width="1.3"/>
<line x1="477.7" y1="453.41" x2="477.7" y2="451.77" stroke="#000" stroke-width="1.3" />
<line x1="474.2" y1="451.77" x2="481.2" y2="451.77" stroke="#000" stroke-width="1.3" />
<rect x="470.5" y="453.41" width="14.4" height="29.39" fill="#555" stroke="#000" stroke-width="1.3"/>
<line x1="497.6" y1="462.87" x2="497.6" y2="461.63" stroke="#000" stroke-width="1.3" />
<line x1="494.1" y1="461.63" x2="501.1" y2="461.63" stroke="#000" stroke-width="1.3" />
<rect x="490.4" y="462.87" width="14.4" height="19.93" fill="#fff" stroke="#000" stroke-width="1.3"/>
<line x1="328.1" y1="358.7" x2="328.1" y2="483.6" stroke="#000" stroke-width="1.7" />
<line x1="327.3" y1="482.8" x2="513.6" y2="482.8" stroke="#000" stroke-width="1.7" />
<line x1="323.5" y1="482.8" x2="328.1" y2="482.8" stroke="#000" stroke-width="1.7" />
<text x="321.3" y="486.3" font-size="9.5" font-weight="bold" fill="#000" text-anchor="end"  stroke="#000" stroke-width="0.3">0</text>
<line x1="323.5" y1="462.25" x2="328.1" y2="462.25" stroke="#000" stroke-width="1.7" />
<text x="321.3" y="465.75" font-size="9.5" font-weight="bold" fill="#000" text-anchor="end"  stroke="#000" stroke-width="0.3">100</text>
<line x1="323.5" y1="441.7" x2="328.1" y2="441.7" stroke="#000" stroke-width="1.7" />
<text x="321.3" y="445.2" font-size="9.5" font-weight="bold" fill="#000" text-anchor="end"  stroke="#000" stroke-width="0.3">200</text>
<line x1="323.5" y1="421.15" x2="328.1" y2="421.15" stroke="#000" stroke-width="1.7" />
<text x="321.3" y="424.65" font-size="9.5" font-weight="bold" fill="#000" text-anchor="end"  stroke="#000" stroke-width="0.3">300</text>
<line x1="323.5" y1="400.6" x2="328.1" y2="400.6" stroke="#000" stroke-width="1.7" />
<text x="321.3" y="404.1" font-size="9.5" font-weight="bold" fill="#000" text-anchor="end"  stroke="#000" stroke-width="0.3">400</text>
<line x1="323.5" y1="380.05" x2="328.1" y2="380.05" stroke="#000" stroke-width="1.7" />
<text x="321.3" y="383.55" font-size="9.5" font-weight="bold" fill="#000" text-anchor="end"  stroke="#000" stroke-width="0.3">500</text>
<line x1="323.5" y1="359.5" x2="328.1" y2="359.5" stroke="#000" stroke-width="1.7" />
<text x="321.3" y="363" font-size="9.5" font-weight="bold" fill="#000" text-anchor="end"  stroke="#000" stroke-width="0.3">600</text>
<line x1="375" y1="482.8" x2="375" y2="487.8" stroke="#000" stroke-width="1.7" />
<text x="377.3" y="493.8" font-size="8.8" font-weight="bold" fill="#000" text-anchor="end" transform="rotate(-45 377.3 493.8)"  stroke="#000" stroke-width="0.3">4</text>
<line x1="467.7" y1="482.8" x2="467.7" y2="487.8" stroke="#000" stroke-width="1.7" />
<text x="470" y="493.8" font-size="8.8" font-weight="bold" fill="#000" text-anchor="end" transform="rotate(-45 470 493.8)"  stroke="#000" stroke-width="0.3">24</text>
<text x="344.6" y="347.4" font-size="10" font-weight="bold" fill="#000" text-anchor="start" textLength="149.6" lengthAdjust="spacingAndGlyphs"  stroke="#000" stroke-width="0.3">Cys-VC-MMAE catabolite</text>
<text x="359.4" y="515.9" font-size="10" font-weight="bold" fill="#000" text-anchor="start" textLength="123" lengthAdjust="spacingAndGlyphs"  stroke="#000" stroke-width="0.3">Time of ADC exposure (hr)</text>
<text x="296.2" y="489.7" font-size="10" font-weight="bold" fill="#000" text-anchor="start" textLength="136" lengthAdjust="spacingAndGlyphs" transform="rotate(-90 296.2 489.7)"  stroke="#000" stroke-width="0.3">Cys-VC MMAE level (nmol/L)</text>
<rect x="219.3" y="536.6" width="14.2" height="7" fill="#000" stroke="#000" stroke-width="1.3"/>
<rect x="219.3" y="551.2" width="14.2" height="7" fill="#d9d9d9" stroke="#6a6a6a" stroke-width="1.3"/>
<rect x="219.3" y="565.8" width="14.2" height="7" fill="#555" stroke="#000" stroke-width="1.3"/>
<rect x="219.3" y="580.4" width="14.2" height="7" fill="#fff" stroke="#000" stroke-width="1.3"/>
<text x="240.5" y="543.5" font-size="10" fill="#000" text-anchor="start"  stroke="#000" stroke-width="0.12">Parental, VC(S)</text>
<text x="240.5" y="558.1" font-size="10" fill="#000" text-anchor="start"  stroke="#000" stroke-width="0.12">CTSB deletion, VC(S)</text>
<text x="240.5" y="572.7" font-size="10" fill="#000" text-anchor="start"  stroke="#000" stroke-width="0.12">Parental, VC(R)</text>
<text x="240.5" y="587.3" font-size="10" fill="#000" text-anchor="start"  stroke="#000" stroke-width="0.12">CTSB deletion, VC(R)</text>
</svg>
</body></html>
